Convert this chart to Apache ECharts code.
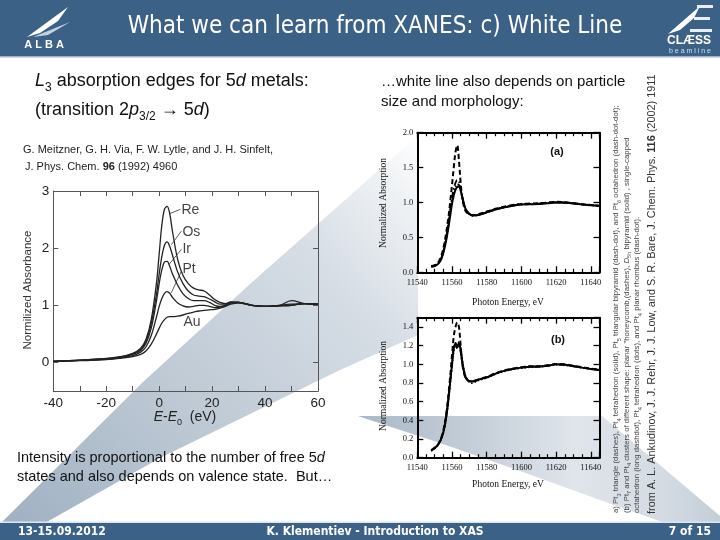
<!DOCTYPE html>
<html>
<head>
<meta charset="utf-8">
<script src="https://cdn.jsdelivr.net/npm/echarts@6/dist/echarts.min.js"></script>
<style>html,body{margin:0;padding:0;background:#fff}#c{width:720px;height:540px}</style>
</head>
<body>
<div id="c"></div>
<script>
// ---------- Left chart (Meitzner et al.) ----------
const relE = [-40,-30,-20,-15,-10,-7,-5,-3,-1,0,1,2,3,4,5,7,9,11,13,15,17,19,21,23,25,27,30,35,40,45,50,55,60];
const reY = [0.02,0.04,0.07,0.1,0.16,0.25,0.4,0.75,1.4,1.9,2.4,2.68,2.73,2.6,2.3,1.8,1.52,1.38,1.3,1.27,1.25,1.18,1.1,1.05,1.03,1.06,1.05,1.0,0.98,0.99,1.08,1.03,1.02];
const osY = [0.02,0.04,0.065,0.09,0.15,0.23,0.37,0.68,1.2,1.55,1.85,2.05,2.11,2.03,1.88,1.58,1.38,1.25,1.18,1.16,1.15,1.11,1.06,1.02,1.02,1.05,1.05,1.0,0.98,0.99,1.0,1.03,1.02];
const irY = [0.02,0.035,0.06,0.085,0.14,0.21,0.33,0.6,1.08,1.38,1.62,1.76,1.77,1.68,1.55,1.35,1.2,1.12,1.08,1.08,1.08,1.05,1.0,0.98,1.0,1.05,1.05,1.0,0.98,0.99,1.0,1.03,1.02];
const ptY = [0.02,0.035,0.055,0.08,0.12,0.18,0.27,0.47,0.8,0.98,1.12,1.21,1.24,1.21,1.14,1.04,0.99,0.97,0.98,1.0,1.0,0.98,0.96,0.97,1.0,1.04,1.05,1.0,0.98,0.99,1.0,1.03,1.02];
const auY = [0.02,0.03,0.05,0.07,0.1,0.14,0.2,0.32,0.5,0.6,0.69,0.75,0.79,0.8,0.8,0.81,0.83,0.86,0.88,0.9,0.91,0.92,0.93,0.95,0.98,1.02,1.04,1.0,0.98,1.0,1.02,1.03,1.02];
const metalNames = ['Re','Os','Ir','Pt','Au'];
const labelPos = [[8.2,2.66],[8.6,2.28],[8.6,1.98],[8.6,1.63],[9.0,0.71]];
const leaderStart = [[3.8,2.6],[4.6,2.06],[3.8,1.72],[4.6,1.22]];
const leaderEnd = [[8.0,2.68],[8.4,2.3],[8.4,1.98],[8.4,1.6]];

// ---------- Right top chart (a) ----------
const eA = [11548,11550,11552,11554,11556,11558,11559,11560,11561,11562,11563,11564,11565,11566,11567,11568,11570,11572,11575,11580,11585,11590,11595,11600,11605,11610,11615,11620,11625,11630,11635,11640,11645];
const aSolid = [0.08,0.09,0.12,0.2,0.38,0.65,0.82,0.98,1.1,1.18,1.22,1.23,1.17,1.07,0.97,0.9,0.84,0.815,0.82,0.86,0.9,0.93,0.955,0.97,0.975,0.98,0.99,1.0,0.995,0.985,0.97,0.96,0.95];
const aDash = [0.09,0.1,0.14,0.25,0.47,0.8,1.02,1.25,1.5,1.72,1.82,1.6,1.28,1.05,0.93,0.87,0.83,0.82,0.83,0.87,0.91,0.94,0.965,0.98,0.985,0.99,1.0,1.01,1.005,0.99,0.975,0.965,0.955];
const aDashDot = [0.085,0.095,0.13,0.22,0.42,0.72,0.9,1.07,1.2,1.28,1.32,1.3,1.2,1.07,0.96,0.89,0.83,0.81,0.82,0.86,0.9,0.935,0.96,0.975,0.98,0.985,0.995,1.005,1.0,0.99,0.975,0.965,0.955];
const aDashDotDot = [0.085,0.095,0.13,0.21,0.4,0.69,0.87,1.03,1.15,1.22,1.26,1.25,1.18,1.06,0.96,0.89,0.835,0.815,0.82,0.86,0.9,0.93,0.955,0.97,0.978,0.983,0.993,1.0,0.998,0.988,0.973,0.962,0.952];

// ---------- Right bottom chart (b) ----------
const eB = [11548,11551,11553,11555,11557,11559,11560,11561,11562,11563,11564,11565,11566,11567,11568,11570,11572,11574,11577,11580,11585,11590,11595,11600,11605,11610,11615,11620,11625,11630,11635,11640,11645];
const bSolid = [0.075,0.12,0.17,0.27,0.48,0.82,1.0,1.17,1.22,1.18,1.23,1.15,1.02,0.92,0.86,0.82,0.82,0.83,0.845,0.86,0.9,0.93,0.95,0.965,0.975,0.975,0.985,1.0,0.995,0.98,0.965,0.95,0.94];
const bDash = [0.08,0.12,0.18,0.29,0.52,0.88,1.1,1.3,1.4,1.45,1.4,1.2,1.0,0.9,0.85,0.82,0.82,0.83,0.85,0.865,0.905,0.935,0.955,0.97,0.98,0.98,0.99,1.005,1.0,0.985,0.97,0.955,0.945];
const bDot = [0.075,0.115,0.17,0.27,0.47,0.8,0.98,1.14,1.2,1.17,1.24,1.17,1.04,0.93,0.86,0.81,0.8,0.82,0.84,0.855,0.895,0.925,0.95,0.96,0.97,0.975,0.985,0.995,0.99,0.98,0.965,0.95,0.94];
const bDashDot = [0.075,0.12,0.17,0.28,0.49,0.83,1.01,1.18,1.23,1.2,1.22,1.13,1.0,0.91,0.85,0.82,0.815,0.825,0.845,0.86,0.9,0.93,0.95,0.965,0.975,0.98,0.985,1.0,0.995,0.98,0.965,0.95,0.94];

const tickLabelsLeftX = [-40,-20,0,20,40,60];
const tickLabelsLeftY = [0,1,2,3];

const zip = (xs, ys) => xs.map((x, i) => [x, ys[i]]);
const sans = "'Liberation Sans', Arial, Helvetica, sans-serif";
const serif = "'Liberation Serif', 'Times New Roman', serif";
const narrow = "'Liberation Sans Narrow', 'Arial Narrow', 'DejaVu Sans Condensed', 'Liberation Sans', sans-serif";

const chart = echarts.init(document.getElementById('c'), null, {renderer: 'canvas'});

function boxAxis(grid, pos, opts) {
  return Object.assign({
    gridIndex: grid, type: 'value', position: pos,
    axisLine: {show: true, onZero: false, lineStyle: {color: '#000', width: 2}},
    axisTick: {show: true, inside: true, length: 6, lineStyle: {color: '#000', width: 1.3}},
    minorTick: {show: false},
    axisLabel: {show: false},
    splitLine: {show: false}
  }, opts);
}

const leftAxisLine = {show: true, onZero: false, lineStyle: {color: '#555', width: 1}};
const leftTick = {show: true, inside: true, length: 5, lineStyle: {color: '#555', width: 1}};
const serifLabel = {show: true, color: '#111', fontSize: 8.5, fontFamily: serif, margin: 6, showMaxLabel: false, formatter: v => String(v)};
const minorBox = {show: true, splitNumber: 4, length: 3.5, lineStyle: {color: '#000', width: 1.2}};

const xAxes = [
  {gridIndex: 0, type: 'value', position: 'bottom', min: -40, max: 60, interval: 20,
   axisLine: leftAxisLine, axisTick: leftTick,
   minorTick: {show: true, splitNumber: 2, length: 5, lineStyle: {color: '#555', width: 1}},
   axisLabel: {color: '#222', fontSize: 13.5, fontFamily: sans, margin: 5, customValues: tickLabelsLeftX},
   splitLine: {show: false}},
  {gridIndex: 0, type: 'value', position: 'top', min: -40, max: 60, interval: 20,
   axisLine: leftAxisLine, axisTick: leftTick,
   minorTick: {show: true, splitNumber: 2, length: 5, lineStyle: {color: '#555', width: 1}},
   axisLabel: {show: false}, splitLine: {show: false}},
  boxAxis(1, 'bottom', {min: 11540, max: 11645, interval: 20, minorTick: minorBox, axisLabel: serifLabel}),
  boxAxis(1, 'top', {min: 11540, max: 11645, interval: 20, minorTick: minorBox}),
  boxAxis(2, 'bottom', {min: 11540, max: 11645, interval: 20, minorTick: minorBox, axisLabel: serifLabel}),
  boxAxis(2, 'top', {min: 11540, max: 11645, interval: 20, minorTick: minorBox})
];

const yAxes = [
  {gridIndex: 0, type: 'value', position: 'left', min: -0.5, max: 3,
   axisLine: leftAxisLine,
   axisTick: Object.assign({customValues: tickLabelsLeftY}, leftTick),
   axisLabel: {color: '#222', fontSize: 13.5, fontFamily: sans, margin: 4, customValues: tickLabelsLeftY},
   splitLine: {show: false}},
  {gridIndex: 0, type: 'value', position: 'right', min: -0.5, max: 3,
   axisLine: leftAxisLine,
   axisTick: Object.assign({customValues: tickLabelsLeftY}, leftTick),
   axisLabel: {show: false}, splitLine: {show: false}},
  boxAxis(1, 'left', {min: 0, max: 2, interval: 0.5,
    axisLabel: {show: true, color: '#111', fontSize: 8.5, fontFamily: serif, margin: 4, formatter: v => v.toFixed(1)}}),
  boxAxis(1, 'right', {min: 0, max: 2, interval: 0.5}),
  boxAxis(2, 'left', {min: 0, max: 1.5, interval: 0.2,
    axisLabel: {show: true, color: '#111', fontSize: 8.5, fontFamily: serif, margin: 4, showMaxLabel: false, formatter: v => v.toFixed(1)}}),
  boxAxis(2, 'right', {min: 0, max: 1.5, interval: 0.2})
];

function lineSeries(xi, data, style) {
  return {type: 'line', xAxisIndex: xi, yAxisIndex: xi, data: data, smooth: 0.35,
    symbol: 'none', silent: true, lineStyle: style, z: 3};
}

const series = [];
[reY, osY, irY, ptY, auY].forEach(ys => series.push(lineSeries(0, zip(relE, ys), {color: '#222', width: 1.3})));
leaderStart.forEach((s, i) => series.push({type: 'line', xAxisIndex: 0, yAxisIndex: 0, data: [s, leaderEnd[i]],
  symbol: 'none', silent: true, lineStyle: {color: '#333', width: 0.8}, z: 3}));
series.push({type: 'scatter', xAxisIndex: 0, yAxisIndex: 0, symbolSize: 1, itemStyle: {color: 'rgba(0,0,0,0)'},
  data: labelPos.map((p, i) => [p[0], p[1], metalNames[i]]),
  label: {show: true, position: 'right', distance: 0, formatter: p => p.data[2],
    color: '#111', fontSize: 14, fontFamily: sans}, silent: true, z: 4});

series.push(lineSeries(2, zip(eA, aSolid), {color: '#000', width: 2}));
series.push(lineSeries(2, zip(eA, aDashDotDot), {color: '#000', width: 1.8, type: [6, 2, 1.5, 2, 1.5, 2]}));
series.push(lineSeries(2, zip(eA, aDashDot), {color: '#000', width: 1.8, type: [6, 2.5, 1.5, 2.5]}));
series.push(lineSeries(2, zip(eA, aDash), {color: '#000', width: 2, type: [5, 3]}));

series.push(lineSeries(4, zip(eB, bSolid), {color: '#000', width: 2}));
series.push(lineSeries(4, zip(eB, bDot), {color: '#000', width: 1.8, type: [1.5, 2]}));
series.push(lineSeries(4, zip(eB, bDashDot), {color: '#000', width: 1.8, type: [6, 2.5, 1.5, 2.5]}));
series.push(lineSeries(4, zip(eB, bDash), {color: '#000', width: 2, type: [5, 3]}));

const headerColor = '#3c6186';
const graphics = [
  // background light rays
  {type: 'polygon', z: -10, silent: true,
   shape: {points: [[0,528],[2,522],[143,382],[250,284],[345,200],[418,135],[418,335],[340,370],[160,458],[45,523],[38,528]]},
   style: {fill: {type: 'linear', x: 0, y: 1, x2: 1, y2: 0, colorStops: [
     {offset: 0, color: '#9fb0c2'}, {offset: 0.4, color: '#bfcad5'}, {offset: 0.72, color: '#d6dde5'}, {offset: 0.9, color: '#eef1f4'}, {offset: 1, color: 'rgba(255,255,255,1)'}]}}},
  {type: 'polygon', z: -10, silent: true,
   shape: {points: [[358,416],[602,416],[720,516],[720,523],[665,523],[600,500],[520,471],[440,443],[385,425]]},
   style: {fill: {type: 'linear', x: 0, y: 0, x2: 1, y2: 0, colorStops: [
     {offset: 0, color: '#a9b8c7'}, {offset: 0.3, color: '#c3cdd7'}, {offset: 0.6, color: '#e0e5eb'}, {offset: 0.85, color: '#d3dae2'}, {offset: 1, color: '#c4ced8'}]}}},
  // header
  {type: 'rect', z: 10, silent: true, shape: {x: 0, y: 0, width: 720, height: 57}, style: {fill: headerColor}},
  {type: 'rect', z: 10, silent: true, shape: {x: 0, y: 56, width: 720, height: 1.5}, style: {fill: '#9fb3c7'}},
  {type: 'polygon', z: 11, silent: true, shape: {points: [[27,37],[68,7],[58,21],[40,33]]}, style: {fill: '#ffffff'}},
  {type: 'polygon', z: 11, silent: true, shape: {points: [[33,37],[70,22],[48,35]]}, style: {fill: 'rgba(220,230,240,0.85)'}},
  {type: 'text', z: 11, silent: true, x: 44, y: 45, style: {text: 'A L B A', fill: '#fff', fontSize: 11, fontWeight: 'bold', fontFamily: sans, align: 'center', verticalAlign: 'middle'}},
  {type: 'text', z: 11, silent: true, x: 375, y: 27, style: {text: 'What we can learn from XANES: c) White Line', fill: '#fff', fontSize: 24, fontFamily: narrow, align: 'center', verticalAlign: 'middle'}},
  // CLAESS logo
  {type: 'polygon', z: 11, silent: true, shape: {points: [[668,34],[700,6],[694,18],[680,30]]}, style: {fill: '#ffffff'}},
  {type: 'rect', z: 11, silent: true, shape: {x: 697, y: 5, width: 16, height: 3}, style: {fill: '#e8eef4'}},
  {type: 'rect', z: 11, silent: true, shape: {x: 694, y: 17, width: 16, height: 3}, style: {fill: '#e8eef4'}},
  {type: 'rect', z: 11, silent: true, shape: {x: 690, y: 29, width: 22, height: 3}, style: {fill: '#e8eef4'}},
  {type: 'text', z: 11, silent: true, x: 689, y: 41, style: {text: 'CLÆSS', fill: '#fff', fontSize: 12, fontWeight: 'bold', fontFamily: sans, align: 'center', verticalAlign: 'middle'}},
  {type: 'text', z: 11, silent: true, x: 690, y: 51, style: {text: 'b e a m l i n e', fill: '#cfe0ee', fontSize: 7, fontFamily: sans, align: 'center', verticalAlign: 'middle'}},
  // footer
  {type: 'rect', z: 10, silent: true, shape: {x: 0, y: 523, width: 720, height: 17}, style: {fill: headerColor}},
  {type: 'rect', z: 10, silent: true, shape: {x: 0, y: 521.5, width: 720, height: 1.5}, style: {fill: '#dbe5ee'}},
  {type: 'text', z: 11, silent: true, x: 18, y: 532, style: {text: '13-15.09.2012', fill: '#fff', fontSize: 12, fontWeight: 'bold', fontFamily: narrow, verticalAlign: 'middle'}},
  {type: 'text', z: 11, silent: true, x: 375, y: 532, style: {text: 'K. Klementiev - Introduction to XAS', fill: '#fff', fontSize: 12, fontWeight: 'bold', fontFamily: narrow, align: 'center', verticalAlign: 'middle'}},
  {type: 'text', z: 11, silent: true, x: 711, y: 532, style: {text: '7 of 15', fill: '#fff', fontSize: 12, fontWeight: 'bold', fontFamily: narrow, align: 'right', verticalAlign: 'middle'}},
  // left texts
  {type: 'text', silent: true, x: 35, y: 81, style: {text: '{i|L}{sub|3} absorption edges for 5{i|d} metals:', fill: '#111', fontSize: 18, lineHeight: 26, fontFamily: sans, verticalAlign: 'middle',
    rich: {i: {fontStyle: 'italic', fontSize: 18, lineHeight: 26, fontFamily: sans, fill: '#111'},
           sub: {fontSize: 12, lineHeight: 14, verticalAlign: 'bottom', fontFamily: sans, fill: '#111'}}}},
  {type: 'text', silent: true, x: 35, y: 110, style: {text: '(transition 2{i|p}{sub|3/2} \u2192 5{i|d})', fill: '#111', fontSize: 18, lineHeight: 26, fontFamily: sans, verticalAlign: 'middle',
    rich: {i: {fontStyle: 'italic', fontSize: 18, lineHeight: 26, fontFamily: sans, fill: '#111'},
           sub: {fontSize: 12, lineHeight: 14, verticalAlign: 'bottom', fontFamily: sans, fill: '#111'}}}},
  {type: 'text', silent: true, x: 23, y: 150, style: {text: 'G. Meitzner, G. H. Via, F. W. Lytle, and J. H. Sinfelt,', fill: '#222', fontSize: 11, fontFamily: sans, verticalAlign: 'middle'}},
  {type: 'text', silent: true, x: 25, y: 167, style: {text: 'J. Phys. Chem. {b|96} (1992) 4960', fill: '#222', fontSize: 11, fontFamily: sans, verticalAlign: 'middle',
    rich: {b: {fontWeight: 'bold', fontSize: 11, fontFamily: sans, fill: '#222'}}}},
  {type: 'text', silent: true, x: 28, y: 290, rotation: Math.PI / 2, style: {text: 'Normilized Absorbance', fill: '#333', fontSize: 11.5, fontFamily: sans, align: 'center', verticalAlign: 'middle'}},
  {type: 'text', silent: true, x: 185, y: 417, style: {text: '{i|E}-{i|E}{sub|0}  (eV)', fill: '#222', fontSize: 14, lineHeight: 20, fontFamily: sans, align: 'center', verticalAlign: 'middle',
    rich: {i: {fontStyle: 'italic', fontSize: 14, lineHeight: 20, fontFamily: sans, fill: '#222'},
           sub: {fontSize: 9, lineHeight: 10, verticalAlign: 'bottom', fontFamily: sans, fill: '#222'}}}},
  {type: 'text', silent: true, x: 17, y: 458, style: {text: 'Intensity is proportional to the number of free 5{i|d}', fill: '#111', fontSize: 14.5, fontFamily: sans, verticalAlign: 'middle',
    rich: {i: {fontStyle: 'italic', fontSize: 14.5, fontFamily: sans, fill: '#111'}}}},
  {type: 'text', silent: true, x: 17, y: 477, style: {text: 'states and also depends on valence state.  But\u2026', fill: '#111', fontSize: 14.5, fontFamily: sans, verticalAlign: 'middle'}},
  // right texts
  {type: 'text', silent: true, x: 381, y: 82, style: {text: '\u2026white line also depends on particle', fill: '#111', fontSize: 15, fontFamily: sans, verticalAlign: 'middle'}},
  {type: 'text', silent: true, x: 381, y: 102, style: {text: 'size and morphology:', fill: '#111', fontSize: 15, fontFamily: sans, verticalAlign: 'middle'}},
  {type: 'text', silent: true, x: 383, y: 203, rotation: Math.PI / 2, style: {text: 'Normalized Absorption', fill: '#111', fontSize: 9.5, fontFamily: serif, align: 'center', verticalAlign: 'middle'}},
  {type: 'text', silent: true, x: 383, y: 386, rotation: Math.PI / 2, style: {text: 'Normalized Absorption', fill: '#111', fontSize: 9.5, fontFamily: serif, align: 'center', verticalAlign: 'middle'}},
  {type: 'text', silent: true, x: 508, y: 302, style: {text: 'Photon Energy, eV', fill: '#111', fontSize: 9.5, fontFamily: serif, align: 'center', verticalAlign: 'middle'}},
  {type: 'text', silent: true, x: 508, y: 484, style: {text: 'Photon Energy, eV', fill: '#111', fontSize: 9.5, fontFamily: serif, align: 'center', verticalAlign: 'middle'}},
  {type: 'text', silent: true, x: 557, y: 152, style: {text: '(a)', fill: '#111', fontSize: 11, fontWeight: 'bold', fontFamily: sans, align: 'center', verticalAlign: 'middle'}},
  {type: 'text', silent: true, x: 558, y: 340, style: {text: '(b)', fill: '#111', fontSize: 11, fontWeight: 'bold', fontFamily: sans, align: 'center', verticalAlign: 'middle'}},
];

const capRich = {
  s: {fontSize: 5.6, verticalAlign: 'bottom', lineHeight: 8, fontFamily: sans, fill: '#444'},
  i: {fontStyle: 'italic', fontSize: 7.8, lineHeight: 12, fontFamily: sans, fill: '#444'},
  b: {fontWeight: 'bold', fontSize: 10.9, lineHeight: 14, fontFamily: sans, fill: '#333'}
};
const captionLines = [
  'a) Pt{s|3} triangle (dashes), Pt{s|4} tetrahedron (solid), Pt{s|5} triangular bipyramid (dash-dot), and Pt{s|6} octahedron (dash-dot-dot);',
  '(b) Pt{s|7} and Pt{s|4} clusters of different shape: planar "honeycomb,(dashes), {i|D}{s|5h} bipyramid (solid) , single-capped',
  'octahedron (long dashdot), Pt{s|4} tetrahedron (dots), and Pt{s|4} planar rhombus (dash-dot).'
];
const captionX = [616, 626.5, 637];
captionLines.forEach((t, i) => graphics.push({type: 'text', silent: true, x: captionX[i], y: 513, rotation: Math.PI / 2,
  style: {text: t, fill: '#444', fontSize: 7.8, lineHeight: 12, fontFamily: sans, align: 'left', verticalAlign: 'middle', rich: capRich}}));
graphics.push({type: 'text', silent: true, x: 652, y: 514, rotation: Math.PI / 2,
  style: {text: 'from A. L. Ankudinov, J. J. Rehr, J. J. Low, and S. R. Bare, J. Chem. Phys. {b|116} (2002) 1911', fill: '#333', fontSize: 10.9, lineHeight: 14, fontFamily: sans, align: 'left', verticalAlign: 'middle', rich: capRich}});

chart.setOption({
  animation: false,
  backgroundColor: '#ffffff',
  grid: [
    {left: 53.3, top: 191, width: 264.7, height: 200},
    {left: 417.3, top: 132.7, width: 182.2, height: 139.6},
    {left: 417.3, top: 317.7, width: 182.2, height: 140}
  ],
  xAxis: xAxes,
  yAxis: yAxes,
  series: series,
  graphic: graphics
});
</script>
</body>
</html>
